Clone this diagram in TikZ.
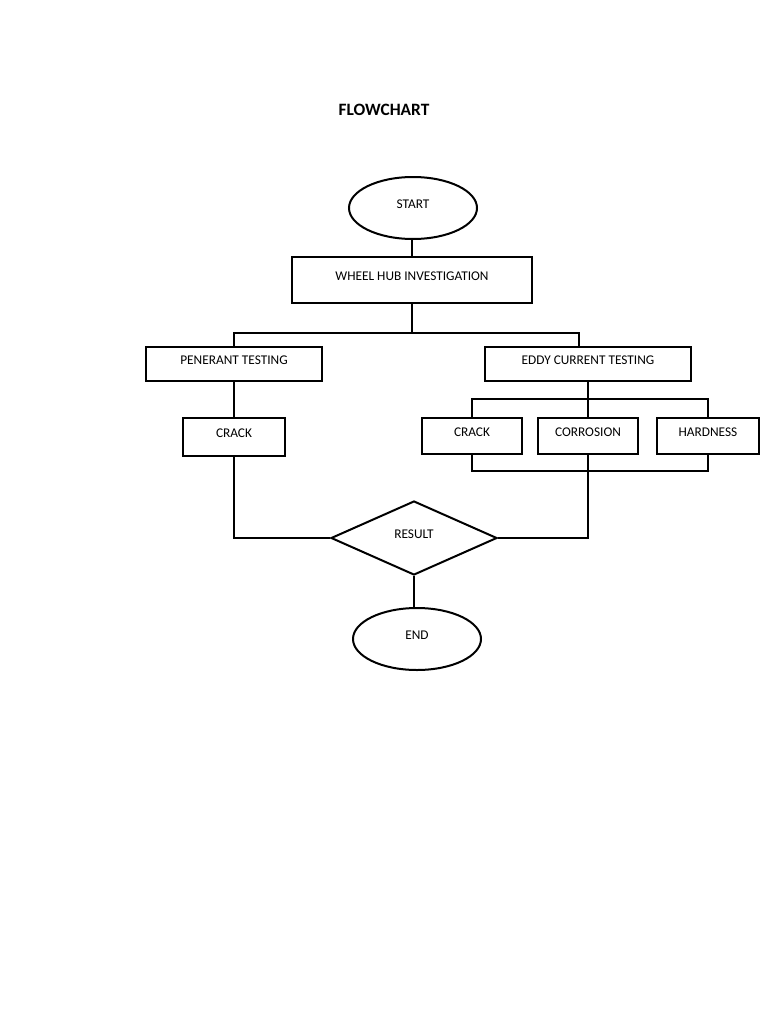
\documentclass[tikz,border=0pt]{standalone}
\usepackage{fontspec}
\setmainfont{Carlito}
\usetikzlibrary{shapes.geometric}
\begin{document}
\begin{tikzpicture}[x=0.75pt,y=-0.75pt,
  every node/.style={font=\fontsize{10}{12}\selectfont},
  shp/.style={draw, line width=1.5pt, inner sep=0pt, text height=0pt, text depth=0pt},
  box/.style={shp, rectangle},
  oval/.style={shp, ellipse, minimum width=96pt, minimum height=46.5pt},
  dec/.style={shp, diamond, minimum width=124.5pt, minimum height=55.5pt},
  conn/.style={draw, line width=1.5pt}]
\useasboundingbox[fill=white] (0,0) rectangle (768,1024);

\node[font=\bfseries\fontsize{13}{15}\selectfont] (title) at (384,110) {FLOWCHART};

\node[oval] (start) at (413,208) {START};
\node[box, minimum width=180pt, minimum height=34.5pt] (hub) at (412,280) {WHEEL HUB INVESTIGATION};
\node[box, minimum width=132pt, minimum height=25.5pt] (pen) at (234,364) {PENERANT TESTING};
\node[box, minimum width=154.5pt, minimum height=25.5pt] (eddy) at (588,364) {EDDY CURRENT TESTING};
\node[box, minimum width=76.5pt, minimum height=28.5pt] (crackL) at (234,437) {CRACK};
\node[box, minimum width=75pt, minimum height=27pt] (crackR) at (472,436) {CRACK};
\node[box, minimum width=75pt, minimum height=27pt] (corr) at (588,436) {CORROSION};
\node[box, minimum width=76.5pt, minimum height=27pt] (hard) at (708,436) {HARDNESS};
\node[dec] (result) at (414,538) {RESULT};
\node[oval] (end) at (417,639) {END};

\coordinate (busR) at (579,333);
\coordinate (ebus) at (0,399);
\coordinate (bbus) at (0,471);

\path[conn] (start.south -| hub.north) -- (hub.north);
\path[conn] (hub.south) -- (hub.south |- busR);
\path[conn] (pen.north) |- (busR) -- (busR |- eddy.north);
\path[conn] (pen.south) -- (pen.south |- crackL.north);
\path[conn] (eddy.south) -- (eddy.south |- ebus);
\path[conn] (crackR.north) |- (hard.north |- ebus) -- (hard.north);
\path[conn] (corr.north) -- (corr.north |- ebus);
\path[conn] (crackR.south) |- (hard.south |- bbus) -- (hard.south);
\path[conn] (corr.south) |- (result.east);
\path[conn] (crackL.south) |- (result.west);
\path[conn] (result.south) -- (result.south |- end.north);
\end{tikzpicture}
\end{document}
